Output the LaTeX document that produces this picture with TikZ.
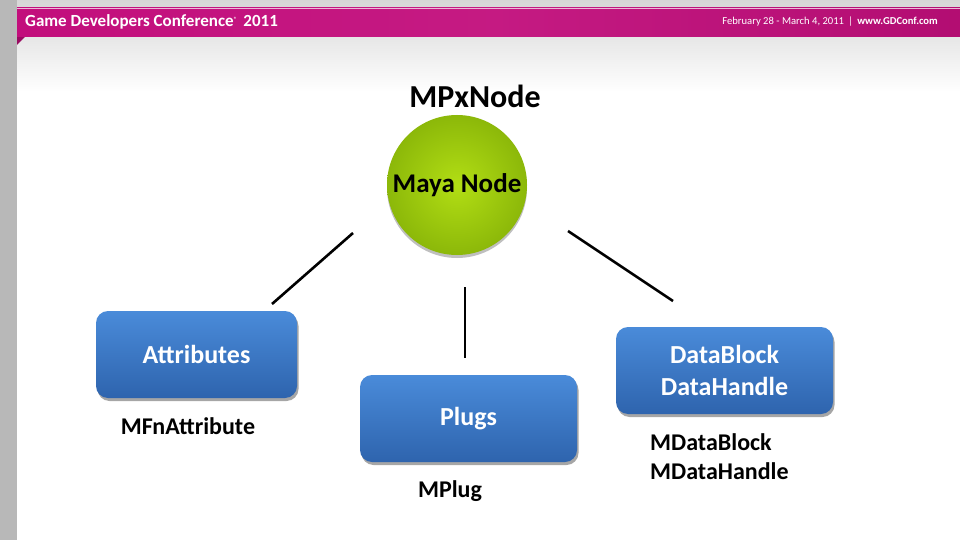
\documentclass[tikz,border=0pt]{standalone}
\usepackage{fontspec}
\setmainfont{Carlito}
\usetikzlibrary{shadows}
\definecolor{gdcpink}{HTML}{C20E7C}
\definecolor{gdcpinkdark}{HTML}{9A0C62}
\definecolor{stripgrey}{HTML}{B8B8B8}
\definecolor{ballgreen}{HTML}{98C80A}
\definecolor{ballgreenlight}{HTML}{B2DE14}
\definecolor{boxtop}{HTML}{4A8BD9}
\definecolor{boxbot}{HTML}{2E64AE}
\tikzset{
  bluebox/.style={draw=none, rounded corners=12pt, minimum width=201pt, minimum height=87pt,
    top color=boxtop, bottom color=boxbot, text=white, font=\bfseries\fontsize{26}{32}\selectfont,
    align=center, inner sep=0pt,
    drop shadow={shadow xshift=1.5pt, shadow yshift=-3pt, fill=black, opacity=0.35}},
  conn/.style={line width=2.6pt, black},
  label/.style={font=\bfseries\fontsize{24}{29}\selectfont, text=black, inner sep=0pt, align=left},
}
\begin{document}
\begin{tikzpicture}[x=1pt,y=-1pt]
\useasboundingbox (0,0) rectangle (960,540);
\fill[white] (0,0) rectangle (960,540);
% top textured band
\shade[top color=black!16, bottom color=white] (17,0) rectangle (960,92);
% left strip
\fill[stripgrey] (0,0) rectangle (17,540);
% banner
\fill[gdcpinkdark] (17,37) -- (17,45) -- (25,37) -- cycle;
\shade[left color=gdcpink, right color=gdcpink!92!black, middle color=gdcpink!95!white] (17,8) rectangle (960,37);
\draw[white!70!gdcpink, line width=0.8pt] (17,8) -- (960,8);
\node[anchor=west, text=white, font=\bfseries\fontsize{17}{20}\selectfont, inner sep=0pt] (title) at (25,22) {Game Developers Conference\raisebox{5pt}{\fontsize{6}{6}\selectfont\char"00AE}\, 2011};
\node[anchor=east, text=white, font=\fontsize{10.6}{12}\selectfont, inner sep=0pt] (date) at (938,22) {February 28 - March 4, 2011 \,|\, \textbf{www.GDConf.com}};
% heading
\node[font=\bfseries\fontsize{32}{36}\selectfont, inner sep=0pt] (mpx) at (475,96) {MPxNode};
% ball
\node[circle, minimum size=140pt, inner sep=0pt, draw=none,
  inner color=ballgreenlight, outer color=ballgreen!92!black,
  drop shadow={shadow xshift=0pt, shadow yshift=-3pt, fill=black, opacity=0.25},
  font=\bfseries\fontsize{27}{30}\selectfont] (maya) at (457,185) {Maya Node};
% boxes
\node[bluebox] (attr) at (196.5,354.5) {Attributes};
\node[bluebox, minimum width=217pt] (plugs) at (468.5,418.5) {Plugs};
\node[bluebox, minimum width=217pt] (data) at (724.5,370.5) {DataBlock\\DataHandle};
% connectors
\coordinate (a1) at (353,233); \coordinate (a2) at (272,304);
\coordinate (p1) at (465,287); \coordinate (p2) at (465,358);
\coordinate (d1) at (568,231); \coordinate (d2) at (673,301);
\draw[conn] (a1) -- (a2);
\draw[conn] (p1) -- (p2);
\draw[conn] (d1) -- (d2);
% labels
\node[label] (lattr) at (188,426) {MFnAttribute};
\node[label] (lplug) at (450,491) {MPlug};
\node[label, anchor=west] (ldata) at (650,457) {MDataBlock\\MDataHandle};
\end{tikzpicture}
\end{document}
